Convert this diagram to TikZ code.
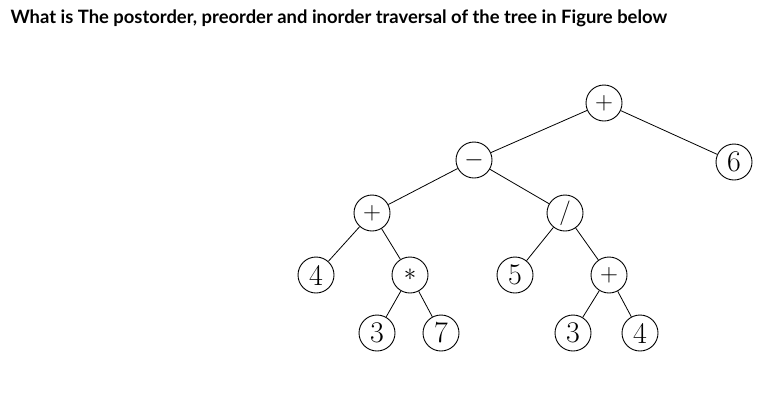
\documentclass[tikz,border=0pt]{standalone}
\usepackage{fontspec}
\newfontfamily\titlefont{Lato}
\begin{document}
\begin{tikzpicture}[x=1pt,y=-1pt,
  tn/.style={circle,draw,line width=0.9pt,minimum size=36pt,inner sep=0pt,font=\fontsize{30}{30}\selectfont},
  edge/.style={line width=0.8pt}]
\useasboundingbox (0,0) rectangle (760,413);
\node[anchor=west,font=\titlefont\bfseries\fontsize{18.4}{20}\selectfont] (t) at (7,18) {What is The postorder, preorder and inorder traversal of the tree in Figure below};
\node[tn] (r) at (604,103) {$+$};
\node[tn] (six) at (734,162) {6};
\node[tn] (m) at (474,160) {$-$};
\node[tn] (p1) at (372,213) {$+$};
\node[tn] (d) at (565,213) {$/$};
\node[tn] (f1) at (316,275) {4};
\node[tn] (st) at (410,275) {$*$};
\node[tn] (five) at (515,275) {5};
\node[tn] (p2) at (609,275) {$+$};
\node[tn] (t1) at (377,333) {3};
\node[tn] (s7) at (441,333) {7};
\node[tn] (t2) at (573,333) {3};
\node[tn] (f2) at (640,333) {4};
\foreach \a/\b in {r/six,r/m,m/p1,m/d,p1/f1,p1/st,st/t1,st/s7,d/five,d/p2,p2/t2,p2/f2}
  \draw[edge] (\a) -- (\b);
\end{tikzpicture}
\end{document}
